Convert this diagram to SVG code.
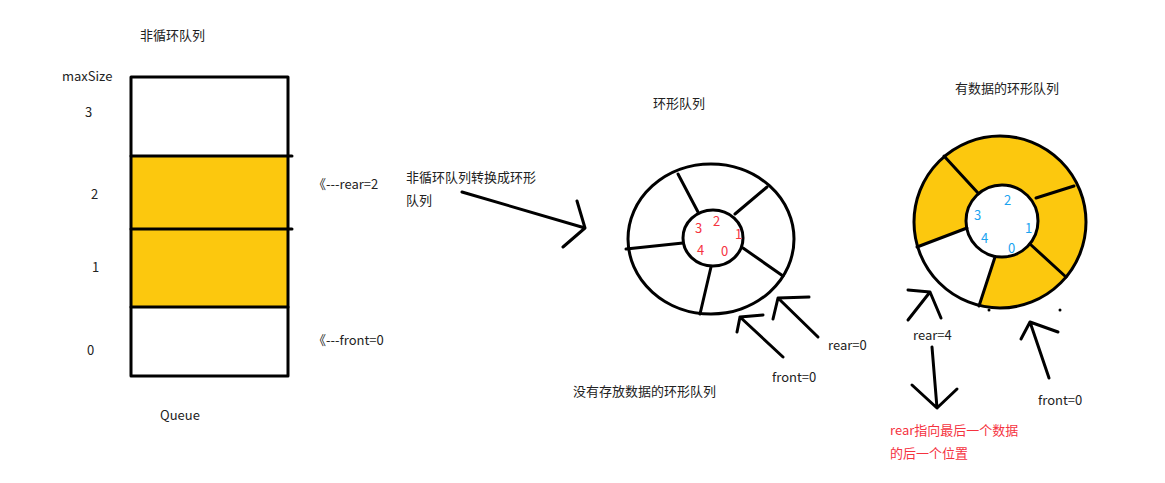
<svg xmlns="http://www.w3.org/2000/svg" width="1165" height="483" viewBox="0 0 1165 483">
<style>
text{font-family:"Noto Sans CJK SC","Noto Sans",sans-serif;font-size:13px;fill:#222}
.r{fill:#f5333f;font-size:13px}
.b{fill:#1aa3f0;font-size:13px}
.ln{stroke:#000;stroke-width:3;fill:none;stroke-linecap:round;stroke-linejoin:round}
</style>
<rect width="1165" height="483" fill="#fff"/>
<g id="queue">
<rect x="131" y="156" width="157" height="151" fill="#fcc80e"/>
<rect x="131" y="77" width="157" height="299" class="ln" stroke-linecap="square"/>
<line x1="131" y1="156" x2="292" y2="156" class="ln"/>
<line x1="131" y1="229" x2="292" y2="229" class="ln"/>
<line x1="131" y1="307" x2="288" y2="307" class="ln"/>
<text x="140" y="40">非循环队列</text>
<text x="62" y="81">maxSize</text>
<text x="85" y="117">3</text>
<text x="91" y="199">2</text>
<text x="92" y="272">1</text>
<text x="87" y="355">0</text>
<text x="160" y="420">Queue</text>
<text x="313" y="189">《---rear=2</text>
<text x="313" y="345">《---front=0</text>
</g>
<g id="convert">
<text x="406" y="182">非循环队列转换成环形</text>
<text x="406" y="205">队列</text>
</g>
<g id="ring-empty">
<text x="653" y="108">环形队列</text>
<ellipse cx="711" cy="239" rx="83" ry="75" class="ln"/>
<ellipse cx="713" cy="238" rx="30" ry="28" class="ln"/>
<line x1="678" y1="174" x2="698" y2="212" class="ln"/>
<line x1="767" y1="187" x2="735" y2="214" class="ln"/>
<line x1="626" y1="249" x2="683" y2="243" class="ln"/>
<line x1="743" y1="248" x2="783" y2="276" class="ln"/>
<line x1="711" y1="267" x2="700" y2="314" class="ln"/>
<text class="r" x="695" y="233">3</text>
<text class="r" x="713" y="226">2</text>
<text class="r" x="735" y="239">1</text>
<text class="r" x="697" y="255">4</text>
<text class="r" x="721" y="256">0</text>
<text x="573" y="396">没有存放数据的环形队列</text>
<text x="828" y="350">rear=0</text>
<text x="772" y="382">front=0</text>
</g>
<g id="ring-data">
<text x="955" y="93">有数据的环形队列</text>
<circle cx="1000" cy="222" r="86" fill="#fcc80e"/>
<path d="M917 247 L967 228 A36 36 0 0 0 995 257 L979 306 A86 86 0 0 1 917 247 Z" fill="#fff"/>
<circle cx="1002" cy="221" r="36" fill="#fff"/>
<circle cx="1000" cy="222" r="86" class="ln"/>
<circle cx="1002" cy="221" r="36" class="ln"/>
<line x1="944" y1="156" x2="978" y2="193" class="ln"/>
<line x1="1074" y1="186" x2="1036" y2="198" class="ln"/>
<line x1="917" y1="247" x2="967" y2="228" class="ln"/>
<line x1="1030" y1="244" x2="1066" y2="277" class="ln"/>
<line x1="995" y1="257" x2="979" y2="306" class="ln"/>
<text class="b" x="1004" y="205">2</text>
<text class="b" x="974" y="220">3</text>
<text class="b" x="1025" y="233">1</text>
<text class="b" x="981" y="243">4</text>
<text class="b" x="1008" y="253">0</text>
<circle cx="989" cy="310" r="1.5" fill="#000"/>
<circle cx="1060" cy="310" r="1.5" fill="#000"/>
<text x="913" y="340">rear=4</text>
<text x="1038" y="405">front=0</text>
<text class="r" x="890" y="435">rear指向最后一个数据</text>
<text class="r" x="890" y="458">的后一个位置</text>
</g>
<g id="connectors">
<path d="M462 192 L585 228 M577 201 L585 228 L563 247" class="ln"/>
<path d="M783 357 L740 317 M763 315 L740 317 L737 332" class="ln"/>
<path d="M818 337 L778 298 M809 297 L778 298 L773 319" class="ln"/>
<path d="M908 320 L930 292 M908 290 L930 292 L941 318" class="ln"/>
<path d="M932 347 L937 408 M912 385 L937 408 L957 389" class="ln"/>
<path d="M1049 378 L1030 322 M1021 339 L1030 322 L1058 332" class="ln"/>
</g>
</svg>
